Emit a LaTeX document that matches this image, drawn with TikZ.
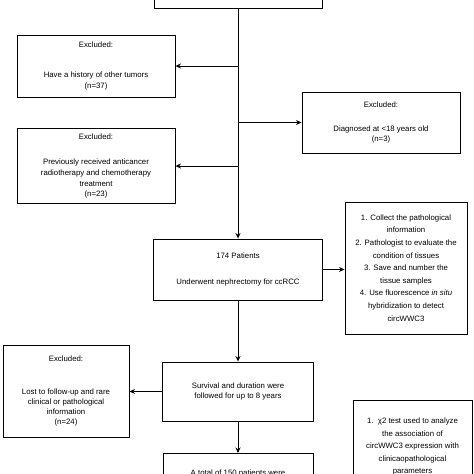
\documentclass[tikz,border=0pt]{standalone}
\usepackage{fontspec}
\setmainfont{Liberation Sans}
\usetikzlibrary{arrows.meta}
\begin{document}
\begin{tikzpicture}[x=1pt,y=-1pt,
  box/.style={draw, line width=0.9pt, inner sep=0pt, align=center, font=\fontsize{7.8}{10}\selectfont},
  arr/.style={line width=0.9pt, -{Stealth[length=5.5pt,width=5pt]}}]
\useasboundingbox (0,0) rectangle (474,474);
\clip (0,0) rectangle (474,474);
\fill[white] (0,0) rectangle (474,474);

\node[box, anchor=south, minimum width=168pt, minimum height=40pt] (top) at (238,9) {};

\node[box, minimum width=158pt, minimum height=62pt, font=\fontsize{7.8}{11}\selectfont] (ex1) at (96,66)
  {Excluded:\\[19pt]Have a history of other tumors\\(n=37)};

\node[box, minimum width=158pt, minimum height=61pt] (ex2) at (381,122.5)
  {Excluded:\\[14pt]Diagnosed at <18 years old\\(n=3)};

\node[box, minimum width=158pt, minimum height=75pt, font=\fontsize{7.8}{10.6}\selectfont] (ex3) at (96,166)
  {Excluded:\\[15pt]Previously received anticancer\\radiotherapy and chemotherapy\\treatment\\(n=23)};

\node[box, minimum width=169pt, minimum height=61pt] (p174) at (238,269.5)
  {174 Patients\\[16pt]Underwent nephrectomy for ccRCC};

\node[box, minimum width=122pt, minimum height=132pt, font=\fontsize{7.8}{12.6}\selectfont] (steps) at (406,268)
  {1. Collect the pathological\\information\\2. Pathologist to evaluate the\\condition of tissues\\3. Save and number the\\tissue samples\\4. Use fluorescence \textit{in situ}\\hybridization to detect\\circWWC3};

\node[box, minimum width=126pt, minimum height=92pt] (lost) at (66,391)
  {Excluded:\\[23pt]Lost to follow-up and rare\\clinical or pathological\\information\\(n=24)};

\node[box, minimum width=151pt, minimum height=59pt] (surv) at (238,391.5)
  {Survival and duration were\\followed for up to 8 years};

\node[box, anchor=north, minimum width=150pt, inner ysep=16pt] (total) at (238,453)
  {A total of 150 patients were};

\node[box, anchor=north, minimum width=119pt, inner ysep=17.5pt, font=\fontsize{7.8}{12.5}\selectfont] (stats) at (412.5,400)
  {1.\ \ χ2 test used to analyze\\the association of\\circWWC3 expression with\\clinicaopathological\\parameters};

\draw[arr] (top.south) -- (p174.north);
\draw[arr] (top.south |- ex1.east) -- (ex1.east);
\draw[arr] (top.south |- ex2.west) -- (ex2.west);
\draw[arr] (top.south |- ex3.east) -- (ex3.east);
\draw[arr] (p174.east) -- (p174.east -| steps.west);
\draw[arr] (p174.south) -- (surv.north);
\draw[arr] (surv.west) -- (surv.west -| lost.east);
\draw[arr] (surv.south) -- (total.north);
\end{tikzpicture}
\end{document}
